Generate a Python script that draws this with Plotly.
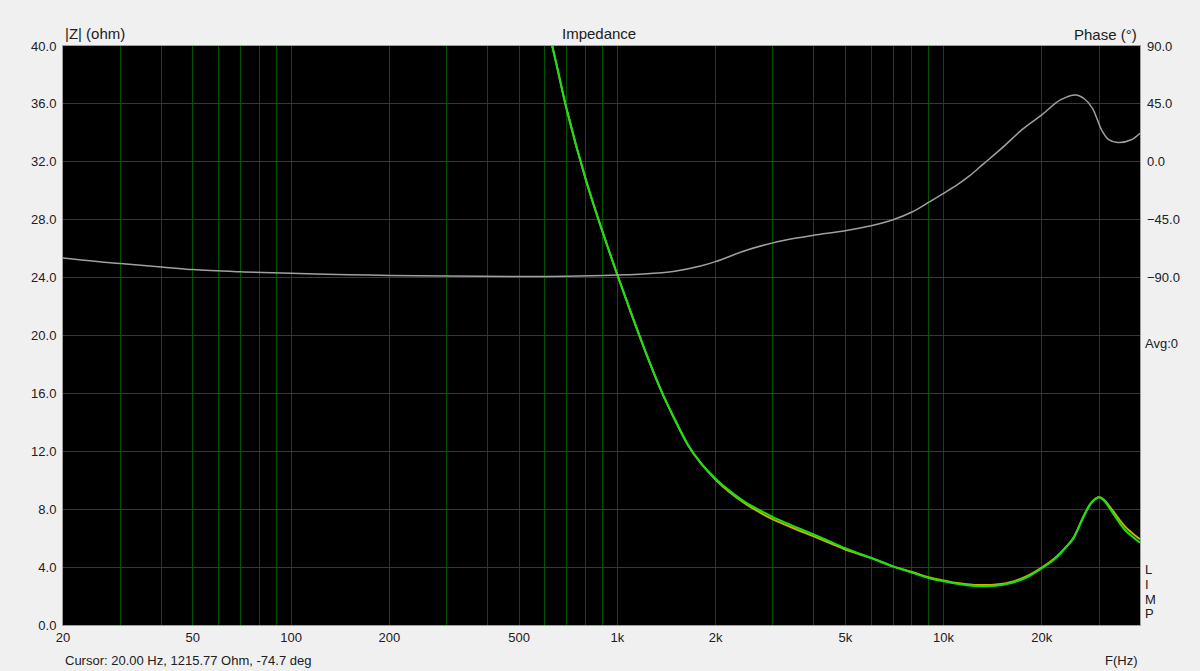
import numpy as np
import plotly.graph_objects as go

FONT = "Liberation Sans, Arial, sans-serif"
BG = "#f0f0f0"

# |Z| curves (ohm) - green is the main trace, yellow one sits underneath
freq_z = [20, 100, 300, 500, 600, 650, 700, 800, 900, 1000, 1100, 1200, 1300,
          1400, 1500, 1650, 1800, 2000, 2200, 2500, 2800, 3000, 3500, 4000,
          4500, 5000, 5500, 6000, 7000, 8000, 9000, 10000, 11000, 12500,
          14000, 15000, 16000, 18000, 20000, 22000, 24000, 25000, 27000,
          28500, 30000, 31000, 33000, 36000, 40000]
z_green = [1215.77, 245.0, 82.0, 50.5, 42.2, 38.8, 35.6, 30.8, 27.2, 24.2,
           21.6, 19.3, 17.3, 15.6, 14.2, 12.4, 11.2, 10.1, 9.3, 8.4, 7.8,
           7.45, 6.8, 6.25, 5.75, 5.3, 4.95, 4.65, 4.05, 3.62, 3.25, 3.02,
           2.85, 2.70, 2.69, 2.76, 2.88, 3.30, 3.92, 4.6, 5.5, 6.0, 7.6,
           8.5, 8.82, 8.6, 7.75, 6.56, 5.69]
z_yellow = [1215.77, 245.0, 82.0, 50.5, 42.2, 38.8, 35.6, 30.8, 27.2, 24.2,
            21.6, 19.3, 17.3, 15.6, 14.2, 12.4, 11.2, 10.05, 9.2, 8.3, 7.65,
            7.3, 6.65, 6.12, 5.65, 5.22, 4.9, 4.62, 4.05, 3.66, 3.3, 3.07,
            2.9, 2.77, 2.77, 2.83, 2.95, 3.38, 3.97, 4.65, 5.5, 6.0, 7.6,
            8.5, 8.82, 8.65, 7.9, 6.8, 5.92]

# phase (deg)
freq_ph = [20, 30, 40, 50, 70, 100, 150, 200, 300, 500, 700, 1000, 1200,
           1500, 1800, 2000, 2500, 3000, 3500, 4000, 5000, 6000, 7000, 8000,
           9000, 10000, 11000, 12000, 13200, 15000, 17400, 20000, 22800,
           25400, 27000, 28600, 30500, 32000, 34200, 37600, 40000]
phase = [-74.7, -79.1, -81.7, -83.8, -85.5, -86.7, -87.7, -88.3, -88.8,
         -89.2, -89.0, -88.0, -87.2, -85.0, -81.0, -77.6, -68.5, -63.0,
         -59.5, -57.0, -53.5, -49.7, -45.0, -39.0, -31.5, -24.5, -18.0,
         -11.0, -2.0, 10.0, 25.0, 36.5, 48.1, 52.0, 49.0, 41.6, 24.8,
         17.5, 15.0, 17.1, 22.2]

x_major = [20, 50, 100, 200, 500, 1000, 2000, 5000, 10000, 20000]
x_labels = ["20", "50", "100", "200", "500", "1k", "2k", "5k", "10k", "20k"]
# grid at every 1..9 step of each decade
x_grid = [m * d for d in (10, 100, 1000, 10000) for m in range(1, 10)
          if 20 < m * d < 40000]
y_ticks = list(range(0, 41, 4))

fig = go.Figure()

fig.add_trace(go.Scatter(x=freq_ph, y=phase, yaxis="y2", mode="lines",
                         line=dict(color="#a0a0a0", width=1.5, shape="spline"),
                         showlegend=False))
fig.add_trace(go.Scatter(x=freq_z, y=z_yellow, mode="lines",
                         line=dict(color="#c8b400", width=2, shape="spline"),
                         showlegend=False))
fig.add_trace(go.Scatter(x=freq_z, y=z_green, mode="lines",
                         line=dict(color="#18e018", width=2, shape="spline"),
                         showlegend=False))

fig.update_layout(
    template="none",
    width=1200, height=671,
    paper_bgcolor=BG, plot_bgcolor="black",
    margin=dict(l=63, r=60, t=46, b=46),
    font=dict(family=FONT, size=13, color="#202020"),
    xaxis=dict(
        type="log", range=[np.log10(20), np.log10(40000)],
        tickmode="array", tickvals=x_major, ticktext=x_labels,
        showgrid=False,
        minor=dict(tickmode="array", tickvals=x_grid, showgrid=True,
                   gridcolor="#005400", gridwidth=1, ticks=""),
        ticks="", zeroline=False,
        showline=True, linecolor="#a0a0a0", linewidth=1, mirror=True,
    ),
    yaxis=dict(
        range=[0, 40], tickmode="array", tickvals=y_ticks,
        tickformat=".1f", showgrid=False, ticklabelstandoff=3,
        minor=dict(tickmode="array", tickvals=y_ticks[1:-1], showgrid=True,
                   gridcolor="#006000", gridwidth=1, ticks=""),
        ticks="", zeroline=False,
        showline=True, linecolor="#a0a0a0", linewidth=1, mirror=True,
    ),
    yaxis2=dict(
        overlaying="y", side="right", range=[-360, 90],
        tickmode="array", tickvals=[-90, -45, 0, 45, 90], tickformat=".1f",
        showgrid=False, zeroline=False, ticks="", ticklabelstandoff=6,
    ),
)

ann = dict(xref="paper", yref="paper", showarrow=False,
           font=dict(family=FONT, size=13, color="#202020"))
big = dict(xref="paper", yref="paper", showarrow=False,
           font=dict(family=FONT, size=15, color="#202020"))
fig.add_annotation(text="Impedance", x=0.498, y=1.021, xanchor="center",
                   yanchor="middle", **big)
fig.add_annotation(text="|Z| (ohm)", x=0.0, y=1.021, xanchor="left",
                   yanchor="middle", **big)
fig.add_annotation(text="Phase (°)", x=0.999, y=1.019, xanchor="right",
                   yanchor="middle", **big)
fig.add_annotation(text="Avg:0", x=1.003, y=0.487, xanchor="left",
                   yanchor="middle", **ann)
fig.add_annotation(text="Cursor: 20.00 Hz, 1215.77 Ohm, -74.7 deg", x=0.0,
                   y=-0.061, xanchor="left", yanchor="middle", **ann)
fig.add_annotation(text="F(Hz)", x=0.983, y=-0.061, xanchor="center",
                   yanchor="middle", **ann)
for i, ch in enumerate("LIMP"):
    fig.add_annotation(text=ch, x=1.003, y=0.095 - i * 0.0252, xanchor="left",
                       yanchor="middle", **ann)

# page body has a default margin; drop it so the figure sits at 0,0
fig.write_html("out.html", config={"displayModeBar": False},
               post_script="document.body.style.margin='0';")
